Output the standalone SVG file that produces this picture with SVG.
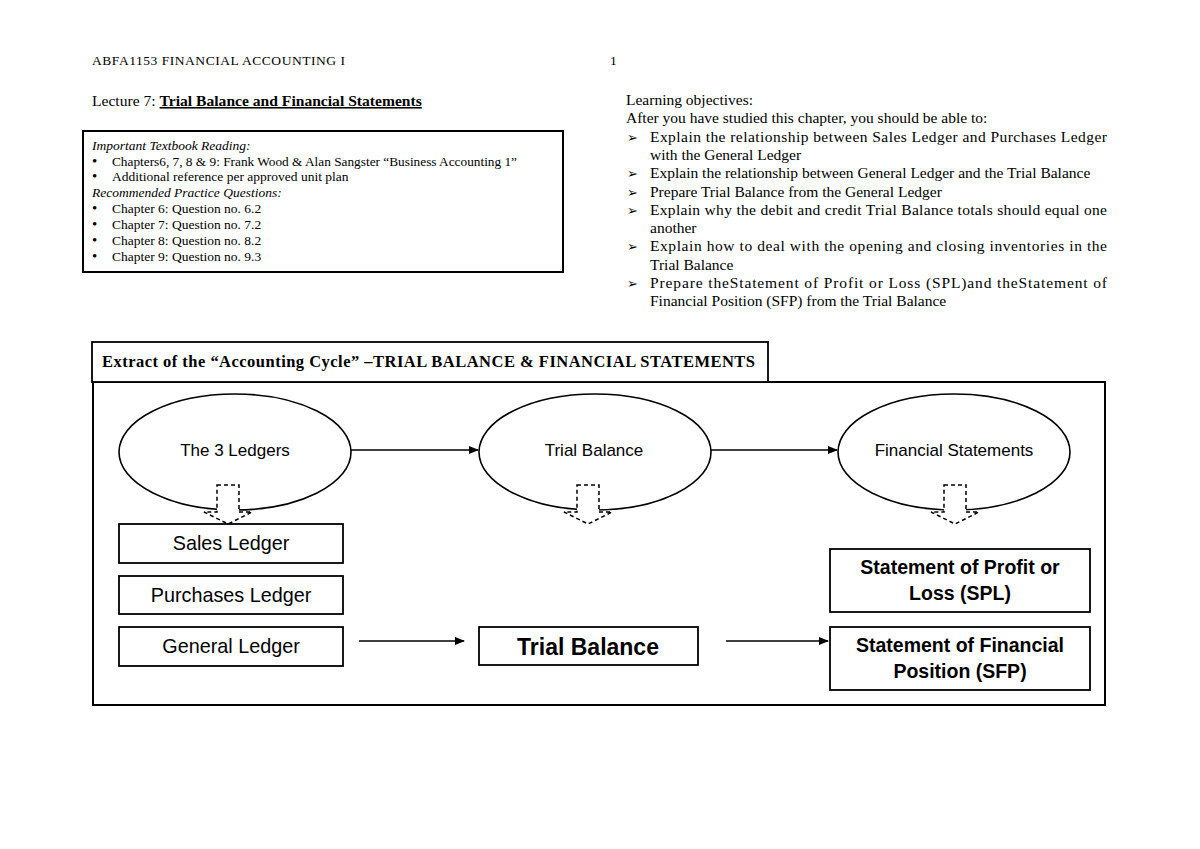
<svg xmlns="http://www.w3.org/2000/svg" width="1200" height="849" viewBox="0 0 1200 849">
<defs>
<marker id="ah" markerWidth="10" markerHeight="8" refX="9" refY="4" orient="auto" markerUnits="userSpaceOnUse">
<path d="M0,0 L10,4 L0,8 Z" fill="#000"/>
</marker>
<style>
.tm{font-family:"Liberation Serif","Times New Roman",serif;fill:#000}
.ar{font-family:"Liberation Sans",Arial,sans-serif;fill:#000}
.bx{fill:#fff;stroke:#000;stroke-width:1.8}
.el{fill:#fff;stroke:#000;stroke-width:1.6}
.cn{fill:none;stroke:#000;stroke-width:1.6}
.da{fill:#fff;stroke:#000;stroke-width:1.5;stroke-dasharray:4 3}
.bu{font-family:"DejaVu Sans",sans-serif;font-size:13px}
</style>
</defs>
<rect width="1200" height="849" fill="#fff"/>

<g id="header">
<text class="tm" x="92" y="65" font-size="13.5" textLength="253">ABFA1153 FINANCIAL ACCOUNTING I</text>
<text class="tm" x="610" y="65" font-size="13.5">1</text>
<text class="tm" x="92" y="106" font-size="15.6">Lecture 7: <tspan font-weight="bold" text-decoration="underline">Trial Balance and Financial Statements</tspan></text>
</g>

<g id="reading-box">
<rect x="83" y="131" width="480" height="141" fill="none" stroke="#000" stroke-width="2"/>
<g class="tm" font-size="13.5">
<text x="92" y="150" font-style="italic">Important Textbook Reading:</text>
<text x="92" y="165.5" font-size="15">•</text><text x="112" y="165.5" textLength="405" lengthAdjust="spacingAndGlyphs">Chapters6, 7, 8 &amp; 9: Frank Wood &amp; Alan Sangster “Business Accounting 1”</text>
<text x="92" y="181" font-size="15">•</text><text x="112" y="181">Additional reference per approved unit plan</text>
<text x="92" y="196.5" font-style="italic">Recommended Practice Questions:</text>
<text x="92" y="213" font-size="15">•</text><text x="112" y="213">Chapter 6: Question no. 6.2</text>
<text x="92" y="229" font-size="15">•</text><text x="112" y="229">Chapter 7: Question no. 7.2</text>
<text x="92" y="245" font-size="15">•</text><text x="112" y="245">Chapter 8: Question no. 8.2</text>
<text x="92" y="261" font-size="15">•</text><text x="112" y="261">Chapter 9: Question no. 9.3</text>
</g>
</g>

<g id="objectives" class="tm" font-size="15.5">
<text x="626" y="105">Learning objectives:</text>
<text x="626" y="123.3">After you have studied this chapter, you should be able to:</text>
<text x="627" y="141.6" class="bu">➢</text><text x="650" y="141.6" textLength="457" lengthAdjust="spacing">Explain the relationship between Sales Ledger and Purchases Ledger</text>
<text x="650" y="159.9">with the General Ledger</text>
<text x="627" y="178.2" class="bu">➢</text><text x="650" y="178.2">Explain the relationship between General Ledger and the Trial Balance</text>
<text x="627" y="196.5" class="bu">➢</text><text x="650" y="196.5">Prepare Trial Balance from the General Ledger</text>
<text x="627" y="214.8" class="bu">➢</text><text x="650" y="214.8" textLength="457" lengthAdjust="spacing">Explain why the debit and credit Trial Balance totals should equal one</text>
<text x="650" y="233.1">another</text>
<text x="627" y="251.4" class="bu">➢</text><text x="650" y="251.4" textLength="457" lengthAdjust="spacing">Explain how to deal with the opening and closing inventories in the</text>
<text x="650" y="269.7">Trial Balance</text>
<text x="627" y="288" class="bu">➢</text><text x="650" y="288" textLength="457" lengthAdjust="spacing">Prepare theStatement of Profit or Loss (SPL)and theStatement of</text>
<text x="650" y="306.3">Financial Position (SFP) from the Trial Balance</text>
</g>

<g id="frame">
<rect x="93" y="382" width="1012" height="323" fill="none" stroke="#000" stroke-width="2"/>
<rect x="92" y="342" width="676" height="40" fill="#fff" stroke="#000" stroke-width="1.8"/>
<text class="tm" x="102" y="367" font-size="16.5" font-weight="bold" textLength="653">Extract of the “Accounting Cycle” –TRIAL BALANCE &amp; FINANCIAL STATEMENTS</text>
</g>

<g id="connectors">
<line class="cn" x1="351" y1="450" x2="478" y2="450" marker-end="url(#ah)"/>
<line class="cn" x1="711" y1="450" x2="837" y2="450" marker-end="url(#ah)"/>
<line class="cn" x1="359" y1="641" x2="464" y2="641" marker-end="url(#ah)"/>
<line class="cn" x1="726" y1="641" x2="828" y2="641" marker-end="url(#ah)"/>
</g>

<g id="node-ledgers">
<ellipse class="el" cx="235" cy="452" rx="116" ry="58"/>
<text class="ar" x="235" y="456" font-size="17" text-anchor="middle">The 3 Ledgers</text>
<path class="da" d="M217,485 H239 V512 H252 L228,524 L204,512 H217 Z"/>
</g>
<g id="node-tb-ellipse">
<ellipse class="el" cx="595" cy="452" rx="116" ry="58"/>
<text class="ar" x="594" y="456" font-size="17" text-anchor="middle">Trial Balance</text>
<path class="da" d="M577,485 H599 V512 H612 L588,524 L564,512 H577 Z"/>
</g>
<g id="node-fs-ellipse">
<ellipse class="el" cx="954" cy="452" rx="116" ry="58"/>
<text class="ar" x="954" y="456" font-size="17" text-anchor="middle">Financial Statements</text>
<path class="da" d="M944,485 H966 V512 H979 L955,524 L931,512 H944 Z"/>
</g>

<g id="node-sales">
<rect class="bx" x="119" y="524" width="224" height="39"/>
<text class="ar" x="231" y="550" font-size="19.8" text-anchor="middle">Sales Ledger</text>
</g>
<g id="node-purchases">
<rect class="bx" x="119" y="576" width="224" height="38"/>
<text class="ar" x="231" y="601.5" font-size="19.8" text-anchor="middle">Purchases Ledger</text>
</g>
<g id="node-general">
<rect class="bx" x="119" y="627" width="224" height="39"/>
<text class="ar" x="231" y="653" font-size="19.8" text-anchor="middle">General Ledger</text>
</g>
<g id="node-tb">
<rect class="bx" x="479" y="627" width="219" height="38"/>
<text class="ar" x="588" y="655" font-size="23" font-weight="bold" text-anchor="middle">Trial Balance</text>
</g>
<g id="node-spl">
<rect class="bx" x="830" y="549" width="260" height="63"/>
<text class="ar" x="960" y="574" font-size="19.5" font-weight="bold" text-anchor="middle">Statement of Profit or</text>
<text class="ar" x="960" y="600" font-size="19.5" font-weight="bold" text-anchor="middle">Loss (SPL)</text>
</g>
<g id="node-sfp">
<rect class="bx" x="830" y="627" width="260" height="63"/>
<text class="ar" x="960" y="652" font-size="19.5" font-weight="bold" text-anchor="middle">Statement of Financial</text>
<text class="ar" x="960" y="678" font-size="19.5" font-weight="bold" text-anchor="middle">Position (SFP)</text>
</g>
</svg>
